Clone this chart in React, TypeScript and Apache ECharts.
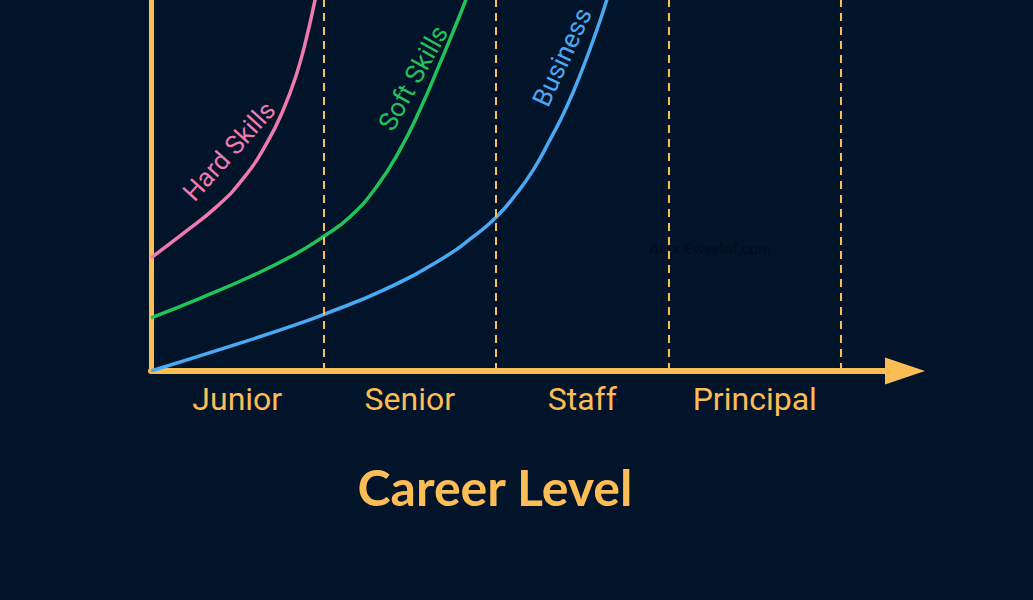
import React, { useEffect, useRef } from "react";
import * as echarts from "echarts";

const levels = ["Junior", "Senior", "Staff", "Principal"];
const levelBoundaries = [1, 2, 3, 4];

const hardSkills: [number, number][] = [
  [0, 30.5], [0.187, 37.1], [0.381, 44.3], [0.535, 51.9], [0.671, 61.4], [0.767, 70.4],
  [0.845, 80.2], [0.903, 90.1], [0.951, 100], [0.974, 105.4],
];
const softSkills: [number, number][] = [
  [0, 14.3], [0.284, 19.6], [0.574, 25.4], [0.825, 31.2], [0.999, 36.2], [1.154, 41.6],
  [1.308, 49.7], [1.443, 59.6], [1.559, 70.4], [1.675, 82.9], [1.765, 93.0], [1.825, 100], [1.868, 105.4],
];
const business: [number, number][] = [
  [0, 0], [0.516, 7.5], [0.864, 12.9], [0.999, 15.2], [1.347, 21.8], [1.675, 29.9], [1.868, 36.2],
  [2.004, 41.6], [2.12, 47.9], [2.216, 54.2], [2.313, 62.3], [2.41, 71.2], [2.506, 82.0],
  [2.584, 91.9], [2.642, 100], [2.672, 105.4],
];

const seriesNames = ["Hard Skills", "Soft Skills", "Business"];
const seriesColors = ["#f07ab0", "#22c25a", "#4aa9f4"];
const curveLabels = [
  { x: 229, y: 151, angle: 48 },
  { x: 413, y: 78, angle: 61 },
  { x: 562, y: 57, angle: 65 },
];

const axisTitle = "Career Level";
const watermark = "Alex Ewerlof.com";

const ORANGE = "#fdbd55";
const BG = "#021429";

export default function App() {
  const ref = useRef<HTMLDivElement>(null);
  useEffect(() => {
    if (!ref.current) return;
    const chart = echarts.init(ref.current, null, { renderer: "svg" });
    const datas = [hardSkills, softSkills, business];
    chart.setOption({
      animation: false,
      backgroundColor: BG,
      grid: { left: 151, right: 128, top: 0, bottom: 229, containLabel: false },
      xAxis: {
        type: "value",
        min: 0,
        max: 4.371,
        interval: 0.5,
        axisLine: {
          show: true,
          lineStyle: { color: ORANGE, width: 6 },
          symbol: ["none", "triangle"],
          symbolSize: [27, 40],
        },
        axisTick: { show: false },
        splitLine: { show: false },
        axisLabel: {
          show: true,
          margin: 12,
          color: ORANGE,
          fontSize: 32,
          fontFamily: "Roboto",
          showMaxLabel: false,
          formatter: (v: number) => {
            const i = Math.floor(v);
            return Math.abs(v - i - 0.5) < 1e-6 && i < levels.length ? levels[i] : "";
          },
        },
      },
      yAxis: {
        type: "value",
        min: 0,
        max: 100,
        axisLine: { show: true, lineStyle: { color: ORANGE, width: 5 } },
        axisTick: { show: false },
        axisLabel: { show: false },
        splitLine: { show: false },
      },
      graphic: [
        {
          type: "text",
          x: 710,
          y: 247,
          z: -1,
          style: {
            text: watermark,
            fill: "rgba(0,0,0,0.35)",
            font: "500 16px Lato",
            textAlign: "center",
            textVerticalAlign: "middle",
          },
        },
        ...seriesNames.map((name, i) => ({
          type: "text",
          x: curveLabels[i].x,
          y: curveLabels[i].y,
          rotation: (curveLabels[i].angle * Math.PI) / 180,
          style: {
            text: name,
            fill: seriesColors[i],
            font: "26px Roboto",
            textAlign: "center",
            textVerticalAlign: "middle",
          },
        })),
        {
          type: "text",
          x: 495,
          y: 487,
          style: {
            text: axisTitle,
            fill: ORANGE,
            font: "bold 50px Lato",
            textAlign: "center",
            textVerticalAlign: "middle",
          },
        },
      ],
      series: [
        ...datas.map((d, i) => ({
          type: "line",
          name: seriesNames[i],
          data: d,
          smooth: 0.5,
          showSymbol: false,
          symbol: "none",
          clip: true,
          lineStyle: { color: seriesColors[i], width: 3.5 },
          z: 3,
        })),
        {
          type: "line",
          data: [],
          markLine: {
            silent: true,
            symbol: "none",
            label: { show: false },
            lineStyle: { color: ORANGE, type: [8, 6], width: 2 },
            data: levelBoundaries.map((x) => ({ xAxis: x })),
          },
        },
      ],
    });
    return () => chart.dispose();
  }, []);
  return <div ref={ref} style={{ width: 1033, height: 600, position: "absolute", left: 0, top: 0 }} />;
}
